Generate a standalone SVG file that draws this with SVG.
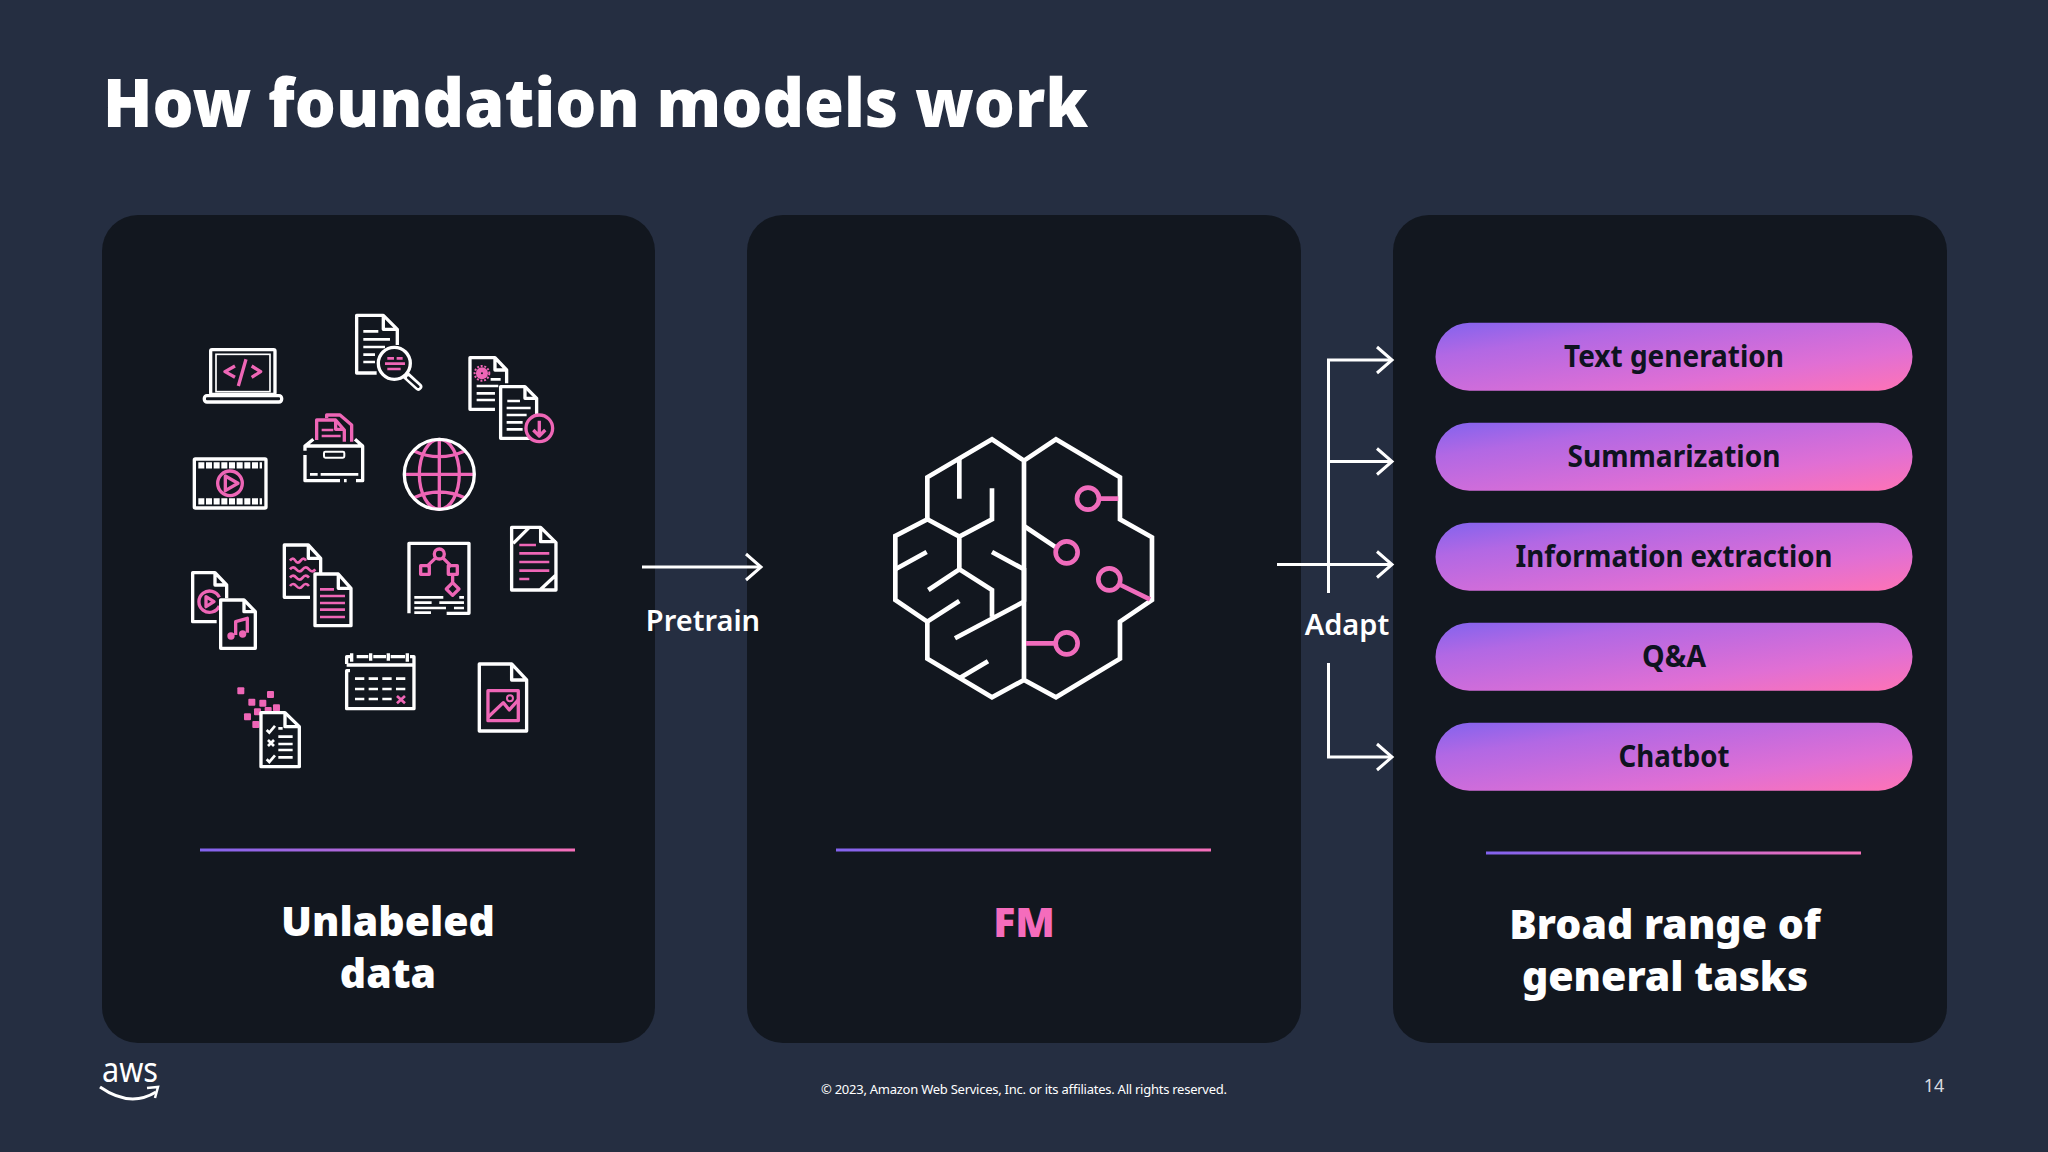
<svg xmlns="http://www.w3.org/2000/svg" width="2048" height="1152" viewBox="0 0 2048 1152">
<defs>
<linearGradient id="pill" x1="0" y1="0" x2="1" y2="1"><stop offset="0" stop-color="#8263ee"/><stop offset=".25" stop-color="#b268e4"/><stop offset=".7" stop-color="#e06fd4"/><stop offset="1" stop-color="#ff73b5"/></linearGradient>
<linearGradient id="rule" x1="0" y1="0" x2="1" y2="0"><stop offset="0" stop-color="#8263ee"/><stop offset="1" stop-color="#f56fb9"/></linearGradient>
<marker id="head" markerUnits="userSpaceOnUse" markerWidth="20" markerHeight="30" refX="17" refY="15" orient="auto"><path d="M2 2L17 15L2 28" fill="none" stroke="#fff" stroke-width="3"/></marker>
</defs>
<style>
.panel{fill:#12171f}
.sans{font-family:"Noto Sans","Open Sans","Liberation Sans",sans-serif}
.label{font-family:"Noto Sans","Open Sans","Liberation Sans",sans-serif;font-weight:900;font-size:41px;fill:#fff;text-anchor:middle}
.pilltext{font-family:"Noto Sans","Open Sans","Liberation Sans",sans-serif;font-weight:700;font-size:30px;fill:#0e1320;text-anchor:middle}
.flow{font-family:"Noto Sans","Open Sans","Liberation Sans",sans-serif;font-weight:600;font-size:29px;fill:#fff;text-anchor:middle}
.w{fill:none;stroke:#fff;stroke-width:10;stroke-linejoin:round}
.wf{fill:#12171f;stroke:#fff;stroke-width:10;stroke-linejoin:round}
.p{fill:none;stroke:#ee66b6;stroke-width:10;stroke-linejoin:round}
.t{fill:none;stroke:#fff;stroke-width:8}
.tp{fill:none;stroke:#ee66b6;stroke-width:8}
.sq{fill:#ee66b6}
.conn{fill:none;stroke:#fff;stroke-width:3}
.br{fill:none;stroke:#fff;stroke-width:14;stroke-linejoin:miter}
.brp{fill:none;stroke:#f06cbc;stroke-width:14}
</style>
<rect width="2048" height="1152" fill="#252e41"/>
<text x="103" y="127" class="sans" font-weight="900" font-size="67" fill="#fff" textLength="985" lengthAdjust="spacingAndGlyphs">How foundation models work</text>

<g id="panel-data">
<rect class="panel" x="102" y="215" width="553" height="828" rx="36"/>
<line x1="200" y1="850" x2="575" y2="850.01" stroke="url(#rule)" stroke-width="3"/>
<text class="label" x="388" y="936">Unlabeled</text>
<text class="label" x="388" y="988">data</text>
</g>
<g id="panel-fm">
<rect class="panel" x="747" y="215" width="554" height="828" rx="36"/>
<line x1="836" y1="850" x2="1211" y2="850.01" stroke="url(#rule)" stroke-width="3"/>
<text class="label" x="1024" y="937" style="fill:#f56cbc">FM</text>
</g>
<g id="panel-tasks">
<rect class="panel" x="1393" y="215" width="554" height="828" rx="36"/>
<line x1="1486" y1="853" x2="1861" y2="853.01" stroke="url(#rule)" stroke-width="3"/>
<text class="label" x="1665" y="939">Broad range of</text>
<text class="label" x="1665" y="991">general tasks</text>
</g>

<g id="icons-1" transform="translate(170 290) scale(.3333)">
<g id="icon-laptop">
<rect class="w" x="122" y="179" width="193" height="134" rx="4"/>
<rect x="138" y="193" width="162" height="112" fill="none" stroke="#fff" stroke-width="5"/>
<rect class="w" x="103" y="317" width="232" height="19" rx="8"/>
<path class="p" d="M195 228L165 245L195 262M245 228L272 245L245 262M228 208L205 288"/>
</g>
<g id="icon-search-doc">
<path class="w" d="M620 249H560V76H640L682 118V165M640 76V118H682"/>
<path class="t" d="M580 124H625M580 148H660M580 171H645M580 194H615M580 216H615"/>
<path d="M707 255L745 290" stroke="#fff" stroke-width="24" stroke-linecap="round"/>
<path d="M715 263L745 290" stroke="#12171f" stroke-width="8" stroke-linecap="round"/>
<circle class="wf" cx="673" cy="220" r="48"/>
<path class="tp" d="M652 205H672M680 205H698M645 221H705M652 237H692"/>
</g>
<g id="icon-gear-docs">
<path class="w" d="M975 358H900V203H975L1010 240V280M975 203V240H1010"/>
<circle cx="936" cy="250" r="18" fill="#ee66b6"/><circle cx="936" cy="250" r="22" fill="none" stroke="#ee66b6" stroke-width="6" stroke-dasharray="6 5"/><circle cx="936" cy="250" r="3" fill="#12171f"/>
<path class="t" d="M962 268H992M920 288H985M920 310H975M920 330H975"/>
<path class="wf" d="M1065 445H992V290H1065L1100 325V445Z"/>
<path class="w" d="M1065 290V325H1100"/>
<path class="t" d="M1012 333H1050M1010 354H1082M1010 375H1070M1010 397H1058M1010 418H1058"/>
<circle cx="1108" cy="415" r="40" fill="#12171f" stroke="#ee66b6" stroke-width="10"/>
<path class="p" d="M1108 392V435M1090 420L1108 438L1126 420"/>
</g>
<g id="icon-drawer">
<path class="p" d="M470 384V375H510L545 405V455"/>
<path class="p" d="M440 450V390H497L523 420V455M497 390V418H523"/>
<path class="tp" d="M455 420H490M455 438H512"/>
<path class="w" d="M405 468H578V572H558M530 572H522M510 572H405V495M405 482V468L430 448M578 468L555 448"/>
<rect x="462" y="485" width="61" height="18" rx="4" fill="none" stroke="#fff" stroke-width="6"/>
<path class="t" d="M420 553H443M452 553H565"/>
</g>
<g id="icon-film">
<rect class="w" x="73" y="507" width="215" height="147" rx="3"/>
<path d="M85 526H276M85 634H276" stroke="#fff" stroke-width="19" stroke-dasharray="18 5" fill="none"/>
<circle class="p" cx="180" cy="580" r="37"/>
<path class="p" d="M166 558L204 580L166 602Z"/>
</g>
<g id="icon-globe">
<path class="p" d="M808 450V655M703 553H913M730 482Q808 518 886 482M730 624Q808 588 886 624"/>
<ellipse class="p" cx="808" cy="553" rx="60" ry="105"/>
<circle class="w" cx="808" cy="553" r="105"/>
</g>
</g>

<g id="icons-2" transform="translate(170 510) scale(.3333)">
<g id="icon-media-docs">
<path class="w" d="M140 335H68V188H135L170 225V265M135 188V225H170"/>
<path class="p" d="M148 262A32 32 0 1 0 148 288"/>
<path class="p" d="M108 260L132 275L108 290Z"/>
<path class="wf" d="M152 415V270H222L256 305V415Z"/>
<path class="w" d="M222 270V305H256"/>
<path class="p" d="M197 375V335L232 325V368"/>
<circle cx="183" cy="378" r="11" fill="#ee66b6"/><circle cx="218" cy="372" r="11" fill="#ee66b6"/>
</g>
<g id="icon-wave-docs">
<path class="w" d="M420 262H343V105H415L452 145V190M415 105V145H452"/>
<path class="tp" d="M360 152q9-12 16 0t16 0t16 0M360 178q9-12 19 0t19 0t19 0t19 0M360 203q9-12 19 0t19 0t19 0M360 228q9-12 19 0t19 0t19 0"/>
<path class="wf" d="M435 347V192H505L543 235V347Z"/>
<path class="w" d="M505 192V235H543"/>
<path class="tp" d="M450 238H492M450 258H525M450 279H525M450 299H525M450 321H525"/>
</g>
<g id="icon-diagram-doc">
<path class="w" d="M717 310V100H897V310H830"/>
<circle class="p" cx="808" cy="132" r="15"/>
<rect class="p" x="752" y="167" width="26" height="26"/>
<rect class="p" x="835" y="167" width="27" height="26"/>
<path class="p" d="M848 218L867 237L848 256L829 237ZM798 143L770 170M818 143L845 170M848 193V218"/>
<path class="t" d="M733 262H820M868 262H882M733 278H785M808 278H882M733 294H828M852 294H882M733 308H783"/>
</g>
<g id="icon-page">
<path class="w" d="M1025 240V52H1112L1158 98V240ZM1112 52V95H1158M1030 100L1078 52M1110 240L1158 195"/>
<path class="tp" d="M1048 105H1098M1048 130H1138M1048 156H1138M1048 182H1138M1048 207H1078"/>
</g>
<g id="icon-calendar">
<path class="w" d="M530 462V440H540M560 440H595M610 440H648M662 440H705M720 440H732V596H530V482H540M530 465H732"/>
<path class="w" d="M545 430V455M602 430V452M655 430V452M712 430V455"/>
<path class="t" d="M555 506H583M596 506H624M637 506H665M678 506H706M555 537H583M596 537H624M637 537H665M678 537H706M555 567H583M596 567H624M637 567H665"/>
<path class="tp" d="M681 558L705 580M705 558L681 580"/>
</g>
<g id="icon-image-doc">
<path class="w" d="M928 663V462H1025L1070 510V663ZM1025 462V510H1070"/>
<rect class="p" x="954" y="542" width="91" height="90"/>
<path class="p" d="M954 622L1000 578L1018 600L1045 570"/>
<circle cx="1020" cy="565" r="9" fill="none" stroke="#ee66b6" stroke-width="6"/>
</g>
<g id="icon-checklist">
<rect class="sq" x="202" y="532" width="21" height="21" rx="3"/><rect class="sq" x="291" y="543" width="21" height="21" rx="3"/><rect class="sq" x="235" y="566" width="21" height="21" rx="3"/><rect class="sq" x="268" y="569" width="21" height="21" rx="3"/><rect class="sq" x="309" y="583" width="21" height="21" rx="3"/><rect class="sq" x="252" y="595" width="21" height="21" rx="3"/><rect class="sq" x="284" y="591" width="21" height="21" rx="3"/><rect class="sq" x="222" y="610" width="21" height="21" rx="3"/><rect class="sq" x="247" y="633" width="21" height="21" rx="3"/>
<path class="wf" d="M273 770V608H345L388 650V770Z"/>
<path class="w" d="M345 608V650H388"/>
<path class="t" d="M290 660L298 668L315 648M325 655H338M294 690L312 708M312 690L294 708M325 680H368M325 702H368M325 720H368M325 742H368M290 748L298 756L315 736"/>
</g>
</g>

<g id="node-brain" transform="translate(870 420) scale(.3333)">
<path class="br" d="M462 122L366 58L172 172V298L76 348V540L172 605V716L366 832L462 780L558 832L750 716V605L846 540V352L750 298V172L558 58L462 122V780"/>
<path class="br" d="M268 115V236M172 298L268 350L366 298V205M268 350V448L366 510V590M76 448L170 396M175 510L268 448M172 605L268 543M255 655L462 545M366 396L462 448V545M268 775L354 724M462 318L558 382"/>
<path class="brp" d="M690 236H745M752 495L840 538M468 670H555"/>
<circle class="brp" cx="654" cy="236" r="33"/>
<circle class="brp" cx="590" cy="397" r="33"/>
<circle class="brp" cx="718" cy="478" r="33"/>
<circle class="brp" cx="590" cy="670" r="33"/>
</g>

<g id="task-text-generation"><rect x="1435.5" y="322.7" width="477" height="68" rx="34" fill="url(#pill)"/><text class="pilltext" x="1674" y="367" textLength="220" lengthAdjust="spacingAndGlyphs">Text generation</text></g>
<g id="task-summarization"><rect x="1435.5" y="422.7" width="477" height="68" rx="34" fill="url(#pill)"/><text class="pilltext" x="1674" y="467" textLength="213" lengthAdjust="spacingAndGlyphs">Summarization</text></g>
<g id="task-information-extraction"><rect x="1435.5" y="522.700" width="477" height="68" rx="34" fill="url(#pill)"/><text class="pilltext" x="1674" y="567" textLength="317" lengthAdjust="spacingAndGlyphs">Information extraction</text></g>
<g id="task-qa"><rect x="1435.5" y="622.700" width="477" height="68" rx="34" fill="url(#pill)"/><text class="pilltext" x="1674" y="667" textLength="64" lengthAdjust="spacingAndGlyphs">Q&amp;A</text></g>
<g id="task-chatbot"><rect x="1435.5" y="722.700" width="477" height="68" rx="34" fill="url(#pill)"/><text class="pilltext" x="1674" y="767" textLength="111" lengthAdjust="spacingAndGlyphs">Chatbot</text></g>

<g id="connectors">
<path class="conn" d="M642 567H761" marker-end="url(#head)"/>
<path class="conn" d="M1277 564.500H1392" marker-end="url(#head)"/>
<path class="conn" d="M1328.500 593V360H1392" marker-end="url(#head)"/>
<path class="conn" d="M1328.500 461.500H1392" marker-end="url(#head)"/>
<path class="conn" d="M1328.500 663V757H1392" marker-end="url(#head)"/>
</g>
<text class="flow" x="703" y="631">Pretrain</text>
<text class="flow" x="1347" y="635">Adapt</text>

<g id="footer">
<text x="102" y="1082" class="sans" font-size="34" fill="#fff" textLength="56" lengthAdjust="spacingAndGlyphs">aws</text>
<path d="M100 1087Q130 1108 156 1092" fill="none" stroke="#fff" stroke-width="3"/>
<path d="M147 1088L158 1087L155 1098" fill="none" stroke="#fff" stroke-width="2.500"/>
<text x="1024" y="1094" class="sans" font-size="13" fill="#fff" text-anchor="middle" textLength="406" lengthAdjust="spacing">© 2023, Amazon Web Services, Inc. or its affiliates. All rights reserved.</text>
<text x="1934" y="1092" class="sans" font-size="18" fill="#d8dbe0" text-anchor="middle">14</text>
</g>
</svg>
